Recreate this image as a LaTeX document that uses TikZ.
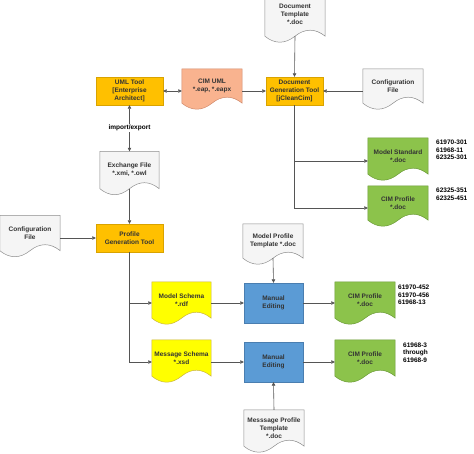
\documentclass[tikz,border=0pt]{standalone}
\usepackage{fontspec}
\setmainfont{Liberation Sans}
\usepackage{tikz}
\usetikzlibrary{arrows.meta,positioning,calc}
\definecolor{ink}{HTML}{333333}
\definecolor{wire}{HTML}{555555}
\definecolor{toolfill}{HTML}{FFC000}
\definecolor{toolline}{HTML}{D9A300}
\definecolor{editfill}{HTML}{5B9BD5}
\definecolor{editline}{HTML}{4A7EB0}
\definecolor{grayfill}{HTML}{F5F5F5}
\definecolor{grayline}{HTML}{8C8C8C}
\definecolor{umlfill}{HTML}{F9B38F}
\definecolor{umlline}{HTML}{D0896A}
\definecolor{schemafill}{HTML}{FFFF00}
\definecolor{schemaline}{HTML}{C9B340}
\definecolor{docfill}{HTML}{8CC34B}
\definecolor{docline}{HTML}{6A9A36}
\pgfdeclarelayer{background}
\pgfsetlayers{background,main}
\tikzset{
  txt/.style={align=center,inner sep=1pt,text=ink,
              font=\fontsize{6.5}{7.8}\selectfont\bfseries},
  toolbox/.style={txt,fill=toolfill,draw=toolline,line width=0.4pt,
                  minimum width=67pt,minimum height=28pt},
  editbox/.style={txt,fill=editfill,draw=editline,line width=0.4pt,
                  minimum width=59pt,minimum height=40pt},
  docbox/.style={txt,minimum width=60pt,minimum height=#1},
  docbox/.default=34pt,
  stdlabel/.style={align=left,inner sep=0pt,text=black,anchor=west,
                   font=\fontsize{6.5}{7.6}\selectfont\bfseries},
  arr/.style={-{Triangle[length=3.5pt,width=3.5pt]},line width=0.6pt,draw=wire},
  dblarr/.style={{Triangle[length=3.5pt,width=3.5pt]}-{Triangle[length=3.5pt,width=3.5pt]},
                 line width=0.6pt,draw=wire}
}
\begin{document}
\begin{tikzpicture}[x=1pt,y=-1pt]
    \path[use as bounding box] (0,0) rectangle (474,454);

    % tools
    \node[toolbox] (uml) at (129.5,91) {UML Tool\\{}[Enterprise\\Architect]};
    \node[toolbox,minimum width=57pt] (docgen) at (294.5,91)
      {Document\\Generation Tool\\{}[jCleanCim]};
    \node[toolbox] (pgt) at (129.5,238) {Profile\\Generation Tool};
    \node[editbox] (edit1) at (273.5,303) {Manual\\Editing};
    \node[editbox] (edit2) at (273.5,362) {Manual\\Editing};

    % documents
    \node[docbox=44pt] (doctpl) at (295,14) {Document\\Template\\*.doc};
    \node[docbox] (cimuml) at (212,86) {CIM UML\\*.eap, *.eapx};
    \node[docbox] (cfgtop) at (393,86) {Configuration\\File};
    \node[docbox=37pt,minimum width=59pt] (exch) at (129.5,170)
      {Exchange File\\*.xmi, *.owl};
    \node[docbox=35pt] (cfgleft) at (30,233) {Configuration\\File};
    \node[docbox=36pt] (modstd) at (398,156) {Model Standard\\*.doc};
    \node[docbox] (cimp1) at (398,203) {CIM Profile\\*.doc};
    \node[docbox] (modtpl) at (273,241) {Model Profile\\Template *.doc};
    \node[docbox=36pt,minimum width=59pt] (schema) at (181.5,300)
      {Model Schema\\*.rdf};
    \node[docbox=36pt] (cimp2) at (365,300) {CIM Profile\\*.doc};
    \node[docbox=36pt,minimum width=59pt] (msgschema) at (181.5,358)
      {Message Schema\\*.xsd};
    \node[docbox=36pt] (cimp3) at (365,358) {CIM Profile\\*.doc};
    \node[docbox=36pt] (msgtpl) at (274,428)
      {Messsage Profile\\Template\\*.doc};

    % wavy document outlines
    \begin{pgfonlayer}{background}
      \foreach \n/\f/\d in {doctpl/grayfill/grayline,cimuml/umlfill/umlline,
          cfgtop/grayfill/grayline,exch/grayfill/grayline,
          cfgleft/grayfill/grayline,modstd/docfill/docline,
          cimp1/docfill/docline,modtpl/grayfill/grayline,
          schema/schemafill/schemaline,cimp2/docfill/docline,
          msgschema/schemafill/schemaline,cimp3/docfill/docline,
          msgtpl/grayfill/grayline}
        \path[fill=\f,draw=\d,line width=0.5pt]
          (\n.north west) -- (\n.north east) -- (\n.south east)
          .. controls ($(\n.south east)+(-10pt,8pt)$)
             and ($(\n.south)+(10pt,8pt)$) .. (\n.south)
          .. controls ($(\n.south)+(-10pt,-8pt)$)
             and ($(\n.south west)+(10pt,-8pt)$) .. (\n.south west)
          -- cycle;
    \end{pgfonlayer}

    % standard numbers
    \node[stdlabel] (std1) at (436,150) {61970-301\\61968-11\\62325-301};
    \node[stdlabel] (std2) at (436,194.5) {62325-351\\62325-451};
    \node[stdlabel] (std3) at (398,295) {61970-452\\61970-456\\61968-13};
    \node[stdlabel] (std4) at (403,352.5) {61968-3\\through\\61968-9};

    % connectors
    \draw[arr] (doctpl.south) -- (docgen.north);
    \draw[dblarr] (uml.east) -- (uml.east -| cimuml.west);
    \draw[arr] (cimuml.east |- docgen.west) -- (docgen.west);
    \draw[arr] (cfgtop.west |- docgen.east) -- (docgen.east);
    \draw[dblarr] (uml.south) -- node[txt,fill=white,text=black]{import/export}
      (exch.north);
    \draw[arr] (exch.south) -- (pgt.north);
    \draw[arr] (cfgleft.east |- pgt.west) -- (pgt.west);
    \draw[arr] (docgen.south) |- ($(modstd.west)+(0pt,-5pt)$);
    \draw[arr] (docgen.south) |- ($(cimp1.west)+(0pt,-5pt)$);
    \draw[arr] (pgt.south) |- (schema.west |- edit1.west);
    \draw[arr] (pgt.south) |- (msgschema.west |- edit2.west);
    \draw[arr] (schema.east |- edit1.west) -- (edit1.west);
    \draw[arr] (msgschema.east |- edit2.west) -- (edit2.west);
    \draw[arr] (edit1.east) -- (edit1.east -| cimp2.west);
    \draw[arr] (edit2.east) -- (edit2.east -| cimp3.west);
    \draw[arr] (modtpl.south) -- (edit1.north);
    \draw[arr] (msgtpl.north) -- (edit2.south);
  \end{tikzpicture}
\end{document}
